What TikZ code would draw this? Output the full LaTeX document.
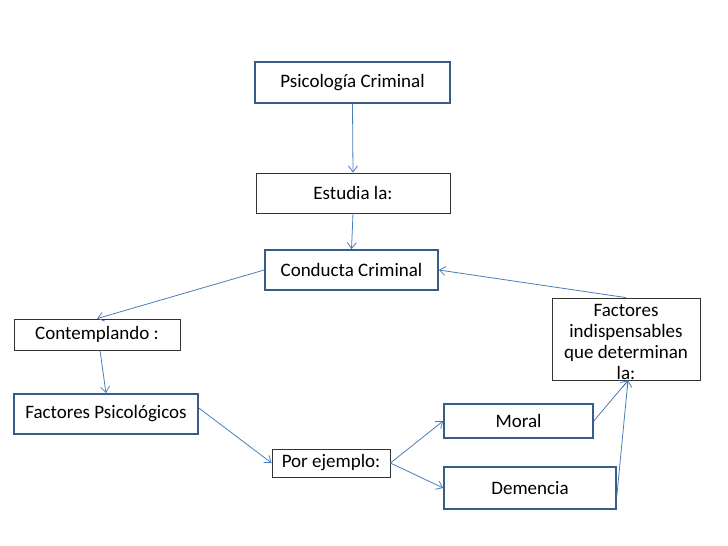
\documentclass[tikz,border=0pt]{standalone}
\usepackage{fontspec}
\setmainfont{Carlito}
\usetikzlibrary{arrows.meta}
\definecolor{bbord}{HTML}{385D8A}
\definecolor{arr}{HTML}{4A7EBB}
\begin{document}
\begin{tikzpicture}[x=1pt,y=-1pt,
  base/.style={rectangle,inner sep=1pt,align=center,font=\fontsize{19}{21}\selectfont,fill=white},
  bluebox/.style={base,draw=bbord,line width=1.6pt},
  blackbox/.style={base,draw=black!80,line width=0.8pt},
  conn/.style={draw=arr,line width=0.8pt,-{Straight Barb[length=6pt,width=9pt]}}]
\useasboundingbox (0,0) rectangle (728,546);
\node[bluebox,minimum width=195pt,minimum height=41pt] (psi) at (352.5,82.5) {Psicología Criminal};
\node[blackbox,minimum width=194pt,minimum height=40pt] (est) at (353,193) {Estudia la:};
\node[bluebox,minimum width=173pt,minimum height=40pt] (con) at (351.5,270) {Conducta Criminal};
\node[blackbox,minimum width=166pt,minimum height=31pt] (cont) at (97,334.5) {Contemplando :};
\node[bluebox,minimum width=184pt,minimum height=40pt] (fps) at (106,414) {Factores Psicológicos};
\node[blackbox,minimum width=118pt,minimum height=28pt] (por) at (331,463) {Por ejemplo:};
\node[bluebox,minimum width=149pt,minimum height=34pt] (mor) at (518.5,421) {Moral};
\node[bluebox,minimum width=172pt,minimum height=42pt] (dem) at (530,488) {Demencia};
\node[blackbox,minimum width=148pt,minimum height=82pt] (fin) at (626,339) {};
\node[base,fill=none,font=\fontsize{19}{21}\selectfont] (fint) at (626,342) {Factores\\indispensables\\que determinan\\la:};
\draw[conn] (psi.south) -- (est.north);
\draw[conn] (est.south) -- (con.north);
\draw[conn] (con.west) -- (cont.north);
\draw[conn] ([xshift=3pt]cont.south) -- (fps.north);
\draw[conn] ([yshift=6pt]fps.east) -- (por.west);
\draw[conn] (por.east) -- (mor.west);
\draw[conn] (por.east) -- (dem.west);
\draw[conn] (mor.east) -- ([xshift=2pt]fin.south);
\draw[conn] ([yshift=-8pt]dem.east) -- ([xshift=2pt]fin.south);
\draw[conn] (fin.north) -- (con.east);
\end{tikzpicture}
\end{document}
